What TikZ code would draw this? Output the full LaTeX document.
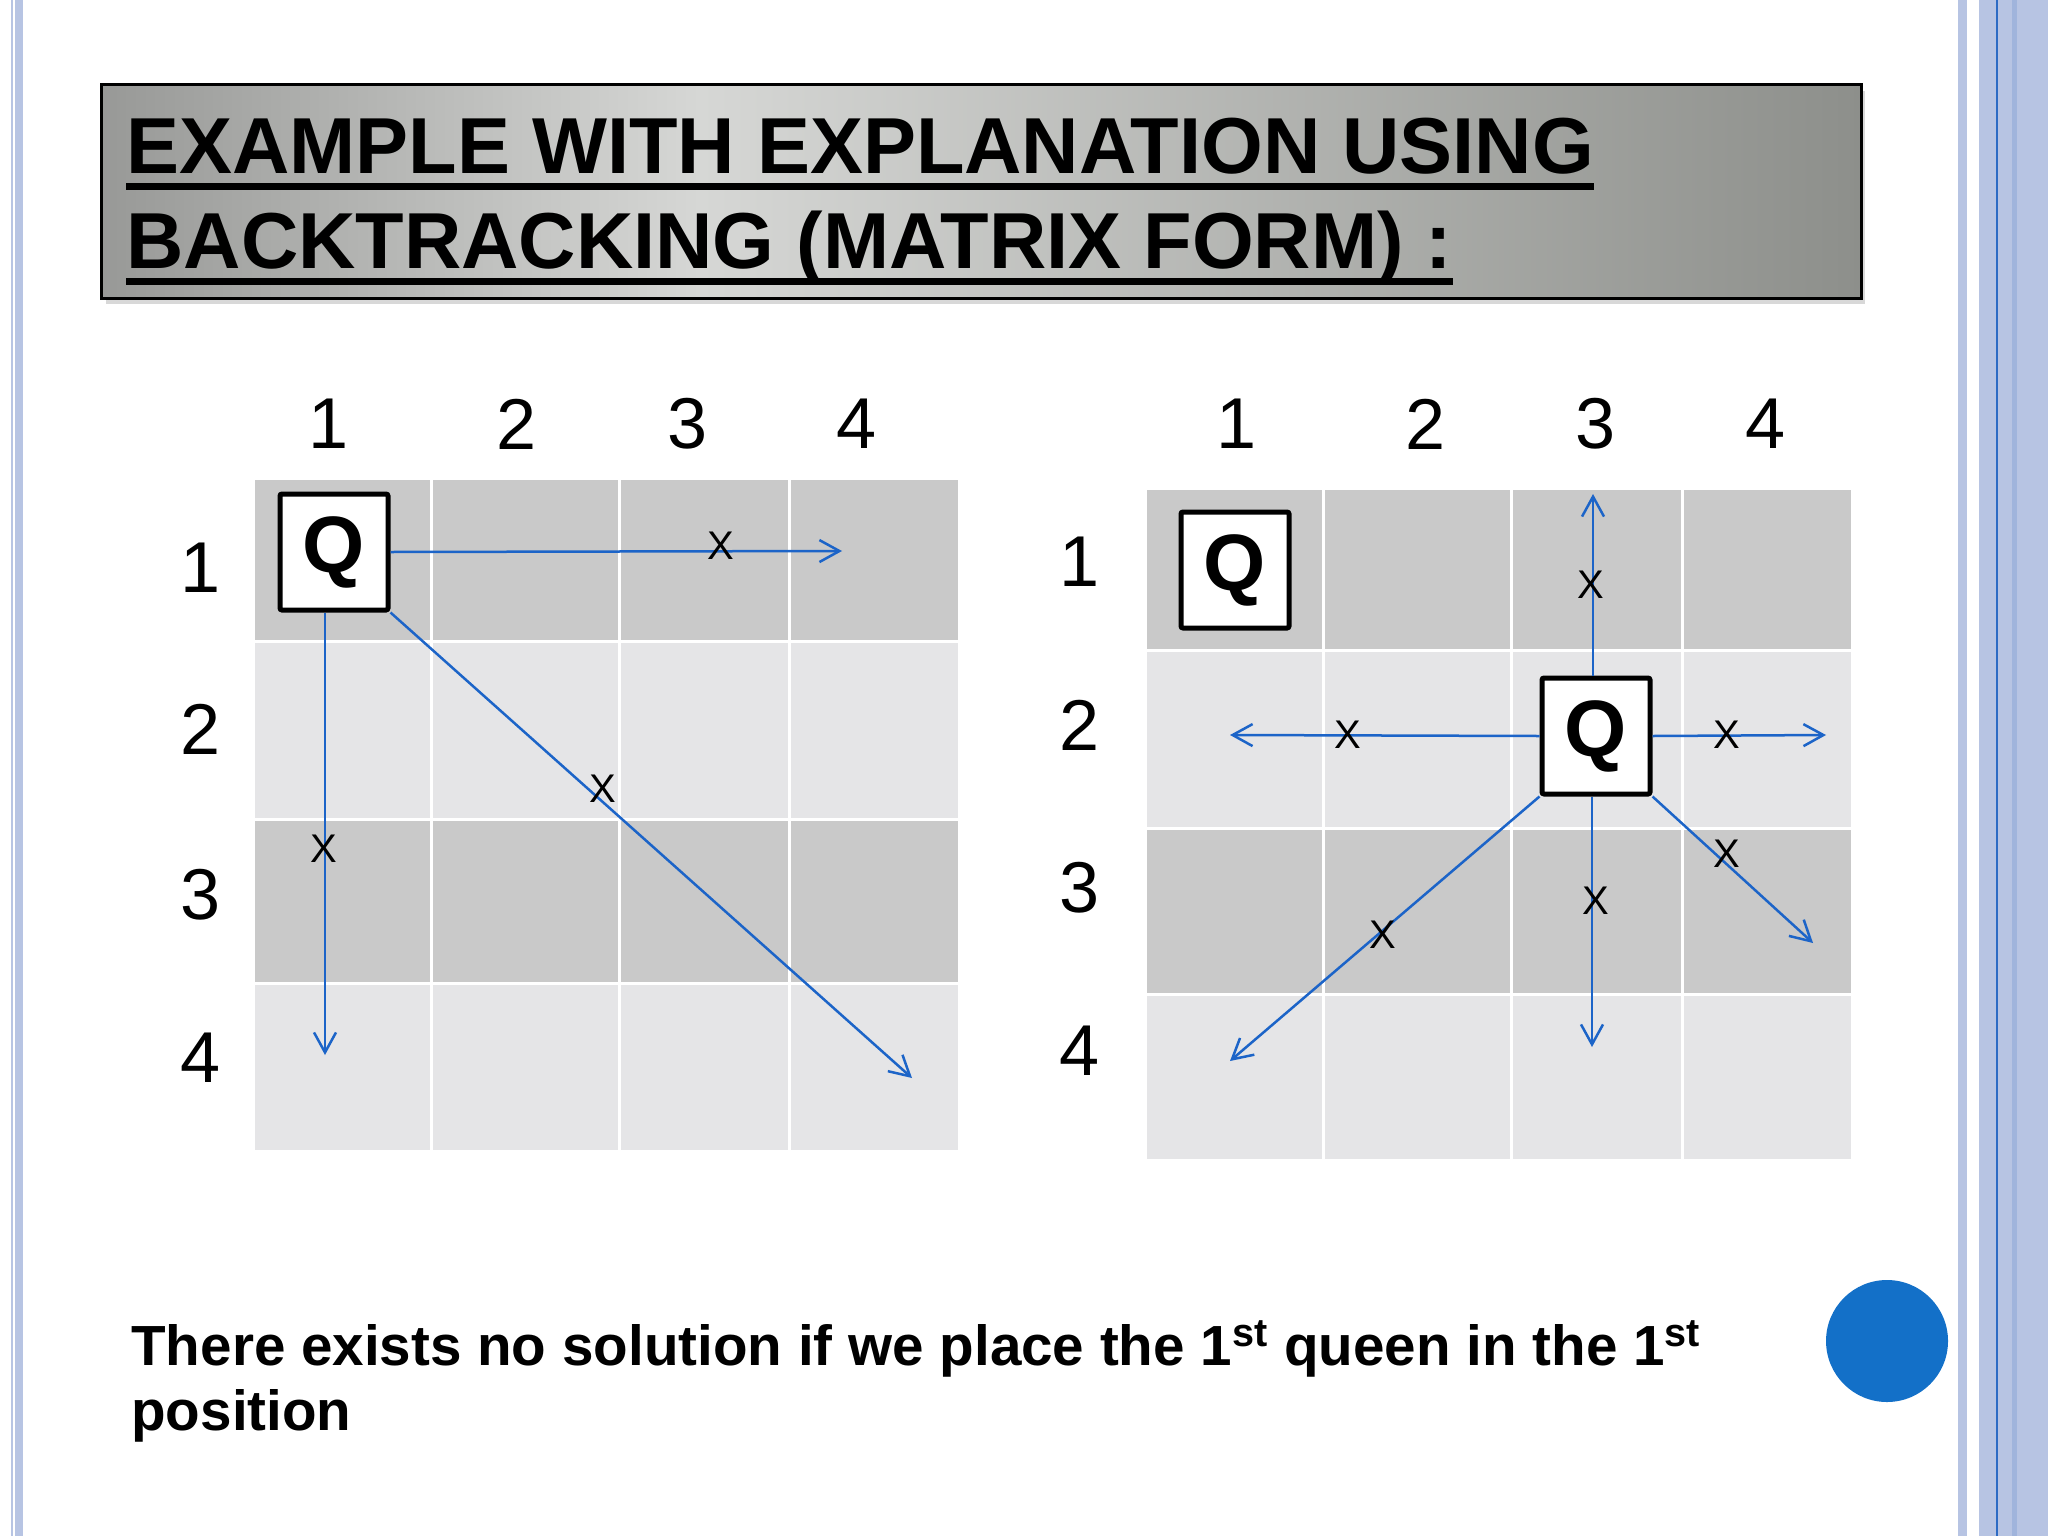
\documentclass[tikz,border=0pt]{standalone}
\usepackage{fontspec}
\setmainfont{Liberation Sans}
\usetikzlibrary{arrows.meta, shadows, positioning}
\definecolor{arrowblue}{RGB}{28,100,200}
\definecolor{celldark}{RGB}{201,201,201}
\definecolor{celllight}{RGB}{229,229,231}
\definecolor{stripeblue}{RGB}{183,196,227}
\definecolor{stripemid}{RGB}{160,180,220}
\definecolor{stripeline}{RGB}{45,107,196}
\definecolor{dotblue}{RGB}{19,112,200}
\definecolor{tgdark}{RGB}{152,153,151}
\definecolor{tglight}{RGB}{214,215,213}
\definecolor{tgright}{RGB}{141,143,139}
\pgfdeclarehorizontalshading{titlegrad}{100bp}{color(0bp)=(tgdark); color(25bp)=(tgdark); color(42bp)=(tglight); color(75bp)=(tgright); color(100bp)=(tgright)}

\begin{document}
\begin{tikzpicture}[x=0.5pt, y=-0.5pt, >={Straight Barb[length=10pt, width=11pt]},
	queen/.style={draw, line width=2.5pt, fill=white, rounded corners=1pt, minimum width=54pt, minimum height=58pt, inner sep=0pt, font=\fontsize{40}{40}\selectfont\bfseries},
	num/.style={inner sep=0pt, font=\fontsize{36}{36}\selectfont},
	cross/.style={inner sep=0pt, font=\fontsize{20}{20}\selectfont},
	attack/.style={->, draw=arrowblue, line width=1.25pt},
	heading/.style={anchor=base west, inner sep=0pt, font=\fontsize{39.7}{39.7}\selectfont\bfseries},
	remark/.style={anchor=base west, inner sep=0pt, font=\fontsize{28.3}{28.3}\selectfont\bfseries}]
	\useasboundingbox (0,0) rectangle (2048,1536);
	\fill[white] (0,0) rectangle (2048,1536);

	% side stripes
	\fill[stripeblue] (11,0) rectangle (13,1536);
	\fill[stripeblue] (15,0) rectangle (23,1536);
	\fill[stripeblue] (1958,0) rectangle (1967,1536);
	\fill[stripeblue] (1979,0) rectangle (2048,1536);
	\fill[stripeline] (1996,0) rectangle (1998,1536);
	\fill[stripemid] (2012,0) rectangle (2017,1536);

	% title
	\node[draw, line width=1.5pt, shading=titlegrad, minimum width=879.75pt, minimum height=106.75pt, inner sep=0pt,
		drop shadow={shadow xshift=2pt, shadow yshift=-3pt, opacity=0.3}] (title) at (981.5,191.5) {};
	\node[heading] (head1) at (126,173) {EXAMPLE WITH EXPLANATION USING};
	\node[heading] (head2) at (126,268) {BACKTRACKING (MATRIX FORM) :};
	\draw[line width=3.5pt] ([yshift=-6.5pt]head1.base west) -- ([yshift=-6.5pt]head1.base east);
	\draw[line width=3.5pt] ([yshift=-6.5pt]head2.base west) -- ([yshift=-6.5pt]head2.base east);

	% left board
	\foreach \ya/\yb/\cellc in {478/641/celldark, 641/819/celllight, 819/983/celldark, 983/1151/celllight}
		\foreach \xa/\xb in {253/431, 431/619, 619/789, 789/959}
			\filldraw[fill=\cellc, draw=white, line width=1.5pt] (\xa,\ya) rectangle (\xb,\yb);
	\foreach \lx [count=\c] in {329,517,688,857}
		\node[num] (lcol\c) at (\lx,424) {\c};
	\foreach \ly [count=\r] in {568,729,895,1058}
		\node[num] (lrow\r) at (201,\ly) {\r};

	\node[queen] (qa) at (334,552) {Q};
	\coordinate (ae) at (842,551);
	\coordinate (ad) at (325,1055);
	\coordinate (ag) at (912,1078);
	\draw[attack] (qa.east) -- (ae);
	\draw[attack] (qa.south -| ad) -- (ad);
	\draw[attack] (qa.south east) -- (ag);
	\node[cross] (xa1) at (721,546) {X};
	\node[cross] (xa2) at (324,849) {X};
	\node[cross] (xa3) at (603,789) {X};

	% right board
	\foreach \ya/\yb/\cellc in {488/650/celldark, 650/828/celllight, 828/994/celldark, 994/1160/celllight}
		\foreach \xa/\xb in {1145/1323, 1323/1511, 1511/1682, 1682/1852}
			\filldraw[fill=\cellc, draw=white, line width=1.5pt] (\xa,\ya) rectangle (\xb,\yb);
	\foreach \lx [count=\c] in {1236,1425,1595,1765}
		\node[num] (rcol\c) at (\lx,424) {\c};
	\foreach \ly [count=\r] in {562,725,888,1051}
		\node[num] (rrow\r) at (1080,\ly) {\r};

	\node[queen] (qb) at (1235,570) {Q};
	\node[queen] (qc) at (1596,736) {Q};
	\coordinate (cu) at (1593,494);
	\coordinate (cl) at (1230,735);
	\coordinate (cr) at (1826,735);
	\coordinate (cd) at (1592,1047);
	\coordinate (cdl) at (1230,1061);
	\coordinate (cdr) at (1813,943);
	\draw[attack] (qc.north -| cu) -- (cu);
	\draw[attack] (qc.west) -- (cl);
	\draw[attack] (qc.east) -- (cr);
	\draw[attack] (qc.south -| cd) -- (cd);
	\draw[attack] (qc.south west) -- (cdl);
	\draw[attack] (qc.south east) -- (cdr);
	\node[cross] (xc1) at (1591,585) {X};
	\node[cross] (xc2) at (1348,735) {X};
	\node[cross] (xc3) at (1727,735) {X};
	\node[cross] (xc4) at (1596,901) {X};
	\node[cross] (xc5) at (1383,935) {X};
	\node[cross] (xc6) at (1727,854) {X};

	% conclusion
	\node[remark] (note1) at (131,1365) {There exists no solution if we place the 1\textsuperscript{st} queen in the 1\textsuperscript{st}};
	\node[remark] (note2) at (131,1430) {position};
	\node[circle, fill=dotblue, minimum size=61pt, inner sep=0pt] (dot) at (1887,1341) {};
\end{tikzpicture}
\end{document}
